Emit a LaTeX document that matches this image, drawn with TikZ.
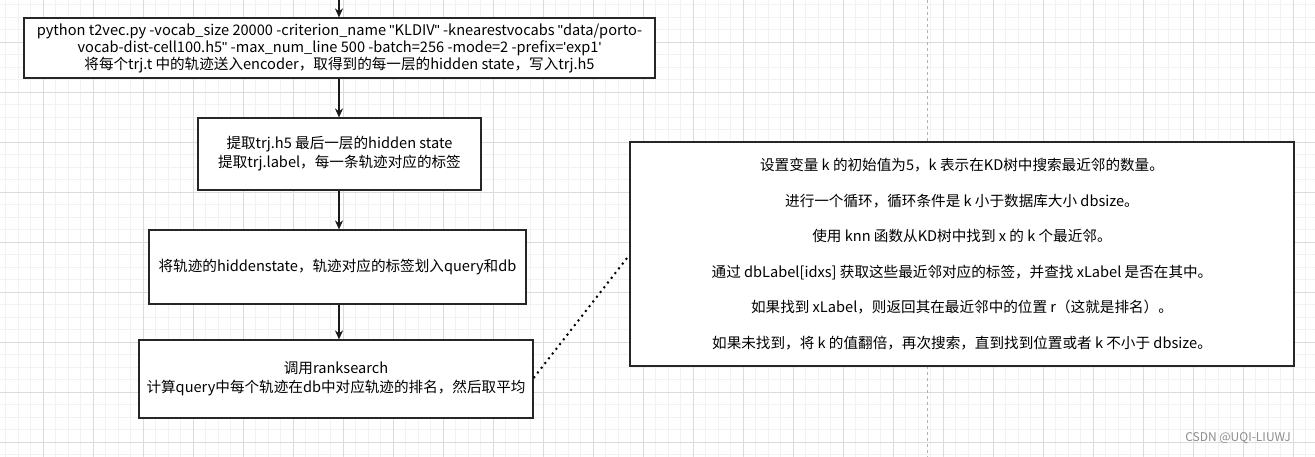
\documentclass[tikz,border=0pt]{standalone}
\usepackage{fontspec}
\setmainfont{Noto Sans CJK SC}
\newfontfamily\lat{Liberation Sans}
\newcommand{\dq}{{\lat\char"22}}
\newcommand{\sq}{{\lat\char"27}}
\usetikzlibrary{arrows.meta}
\begin{document}
\begin{tikzpicture}[x=1pt,y=-1pt,
  box/.style={draw=black!85,line width=1.2pt,fill=white,align=center,inner sep=0pt,font={\fontsize{14.6}{17}\selectfont}},
  arr/.style={-{Stealth[length=9pt,width=8pt]},line width=1.4pt,draw=black!90}]
\useasboundingbox (0,0) rectangle (1315,457);
\fill[white] (0,0) rectangle (1315,457);
\foreach \i in {0,...,106} \draw[black!5,line width=0.6pt] ({5.5+12.5*\i},0) -- ({5.5+12.5*\i},457);
\foreach \i in {0,...,37} \draw[black!5,line width=0.6pt] (0,{4.5+12.5*\i}) -- (1315,{4.5+12.5*\i});
\foreach \i in {0,...,26} \draw[black!14,line width=0.6pt] ({-7+50*\i},0) -- ({-7+50*\i},457);
\foreach \i in {0,...,9} \draw[black!14,line width=0.6pt] (0,{-8+50*\i}) -- (1315,{-8+50*\i});
\draw[black!30,dashed,line width=0.8pt] (927,0) -- (927,457);
\coordinate (top) at (339,0);
\node[box,minimum width=631pt,minimum height=60pt] (b1) at (339.5,48) {python t2vec.py -vocab\_size 20000 -criterion\_name \dq KLDIV\dq{} -knearestvocabs \dq data/porto-\\vocab-dist-cell100.h5\dq{} -max\_num\_line 500 -batch=256 -mode=2 -prefix=\sq exp1\sq\\将每个trj.t 中的轨迹送入encoder，取得到的每一层的hidden state，写入trj.h5};
\node[box,minimum width=283pt,minimum height=72pt,font={\fontsize{14.6}{19}\selectfont}] (b2) at (339.5,154) {提取trj.h5 最后一层的hidden state\\提取trj.label，每一条轨迹对应的标签};
\node[box,minimum width=377pt,minimum height=74pt] (b3) at (337.5,267) {将轨迹的hiddenstate，轨迹对应的标签划入query和db};
\node[box,minimum width=394pt,minimum height=78pt,font={\fontsize{14.6}{19}\selectfont}] (b4) at (336,379) {调用ranksearch\\计算query中每个轨迹在db中对应轨迹的排名，然后取平均};
\node[box,minimum width=664pt,minimum height=224pt,font={\fontsize{14.6}{35.6}\selectfont}] (r) at (962,254) {设置变量 k 的初始值为5，k 表示在KD树中搜索最近邻的数量。\\进行一个循环，循环条件是 k 小于数据库大小 dbsize。\\使用 knn 函数从KD树中找到 x 的 k 个最近邻。\\通过 dbLabel[idxs] 获取这些最近邻对应的标签，并查找 xLabel 是否在其中。\\如果找到 xLabel，则返回其在最近邻中的位置 r（这就是排名）。\\如果未找到，将 k 的值翻倍，再次搜索，直到找到位置或者 k 不小于 dbsize。};
\draw[arr] (top) -- (top |- b1.north);
\draw[arr] (top |- b1.south) -- (top |- b2.north);
\draw[arr] (top |- b2.south) -- (top |- b3.north);
\draw[arr] (top |- b3.south) -- (top |- b4.north);
\draw[line width=2pt,dash pattern=on 2pt off 4pt] (b4.east |- 0,378) -- (r.west |- 0,255);
\node[font={\fontsize{12}{13}\selectfont},text=black!45] (wm) at (1238,438) {CSDN @UQI-LIUWJ};
\end{tikzpicture}
\end{document}
